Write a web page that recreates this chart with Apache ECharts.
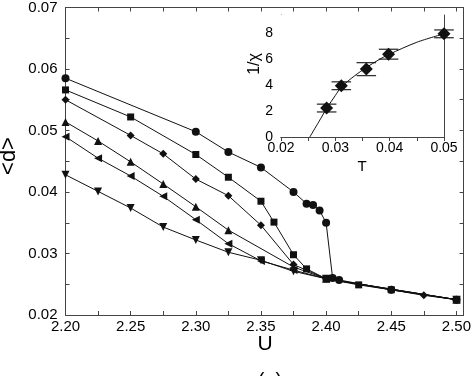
<!DOCTYPE html>
<html>
<head>
<meta charset="utf-8">
<script src="https://cdn.jsdelivr.net/npm/echarts@6/dist/echarts.min.js"></script>
<style>
  html, body {margin: 0; padding: 0; background: #fff;}
  #chart {width: 474px; height: 376px;}
</style>
</head>
<body>
<div id="chart"></div>
<script>
// main panel: <d> vs U, one series per temperature
const circleU = [2.2, 2.3, 2.325, 2.35, 2.375, 2.385, 2.39, 2.395, 2.40, 2.405, 2.41, 2.45, 2.5];
const circleD = [0.0585, 0.0498, 0.0465, 0.0440, 0.0400, 0.0381, 0.0379, 0.0370, 0.0350, 0.0260, 0.0257, 0.0241, 0.0225];
const squareU = [2.2, 2.25, 2.3, 2.325, 2.35, 2.36, 2.375, 2.385, 2.40, 2.425, 2.45, 2.5];
const squareD = [0.0566, 0.0522, 0.0461, 0.0424, 0.0385, 0.0351, 0.0298, 0.0275, 0.0259, 0.0249, 0.0241, 0.0225];
const diamondU = [2.2, 2.25, 2.275, 2.3, 2.325, 2.35, 2.375, 2.40, 2.45, 2.475, 2.5];
const diamondD = [0.0550, 0.0492, 0.0462, 0.0421, 0.0394, 0.0346, 0.0282, 0.0259, 0.0241, 0.0232, 0.0225];
const upU = [2.2, 2.225, 2.25, 2.275, 2.3, 2.325, 2.375, 2.40, 2.5];
const upD = [0.0514, 0.0483, 0.0449, 0.0413, 0.0376, 0.0338, 0.0278, 0.0259, 0.0225];
const leftU = [2.2, 2.225, 2.25, 2.275, 2.3, 2.325, 2.35, 2.375, 2.40, 2.5];
const leftD = [0.0490, 0.0455, 0.0426, 0.0393, 0.0355, 0.0316, 0.0288, 0.0273, 0.0259, 0.0225];
const downU = [2.2, 2.225, 2.25, 2.275, 2.3, 2.325, 2.35, 2.375, 2.40, 2.5];
const downD = [0.0428, 0.0401, 0.0374, 0.0343, 0.0322, 0.0302, 0.0289, 0.0271, 0.0259, 0.0225];

// inset: 1/chi vs T with error bars and fitted curve
const insetT = [0.0284, 0.0311, 0.0357, 0.0398, 0.050];
const insetV = [2.23, 3.95, 5.23, 6.38, 7.95];
const insetErr = [0.3, 0.3, 0.5, 0.38, 0.3];
const fitT = [0.0253, 0.027, 0.0284, 0.030, 0.0311, 0.0335, 0.0357, 0.038, 0.0398, 0.045, 0.050];
const fitV = [0, 1.2, 2.2, 3.2, 3.85, 4.7, 5.35, 5.95, 6.35, 7.3, 7.95];

const FONT = 'Liberation Sans';
const AX = '#444';
const INK = '#111';

const pairs = (xs, ys) => xs.map((x, i) => [x, ys[i]]);
const onStep = (v, step) => Math.abs(Math.round(v / step) * step - v) < 1e-9;

const DIAMOND = 'path://M0,-1L1,0L0,1L-1,0Z';
const LEFT_TRI = 'path://M-1,0L1,-1L1,1Z';
const DOWN_TRI = 'path://M-1,-1L1,-1L0,1Z';

function axis(extra) {
  return Object.assign({
    type: 'value',
    axisLine: {show: true, lineStyle: {color: AX, width: 1}},
    axisTick: {show: true, inside: true, length: 4, lineStyle: {color: AX}},
    splitLine: {show: false},
    axisLabel: {show: false},
  }, extra);
}

function lineSeries(xs, ys, symbol, size) {
  return {
    type: 'line', xAxisIndex: 0, yAxisIndex: 0,
    data: pairs(xs, ys),
    symbol: symbol, symbolSize: size,
    lineStyle: {color: INK, width: 1},
    itemStyle: {color: INK, opacity: 1},
    z: 3,
  };
}

const chart = echarts.init(document.getElementById('chart'), null, {renderer: 'canvas'});
chart.setOption({
  animation: false,
  backgroundColor: '#fff',
  grid: [
    {left: 65.5, right: 7.5, top: 4, bottom: 61},
    {left: 281, right: 30, top: 15, bottom: 239, show: true, backgroundColor: '#fff', borderWidth: 0, z: 5},
  ],
  xAxis: [
    axis({gridIndex: 0, min: 2.2, max: 2.5055, interval: 0.025, position: 'bottom',
      axisLabel: {show: true, margin: 4, color: '#000', fontFamily: FONT, fontSize: 15,
        formatter: v => (onStep(v, 0.05) && v <= 2.5001) ? v.toFixed(2) : ''}}),
    axis({gridIndex: 0, min: 2.2, max: 2.5055, interval: 0.025, position: 'top'}),
    axis({gridIndex: 1, min: 0.02, max: 0.05, interval: 0.005, position: 'bottom',
      axisLabel: {show: true, margin: 4, color: '#000', fontFamily: FONT, fontSize: 14,
        formatter: v => onStep(v, 0.01) ? v.toFixed(2) : ''}}),
    axis({gridIndex: 1, min: 0.02, max: 0.05, interval: 0.005, position: 'top'}),
  ],
  yAxis: [
    axis({gridIndex: 0, min: 0.02, max: 0.07, interval: 0.005, position: 'left',
      axisLabel: {show: true, margin: 8, color: '#000', fontFamily: FONT, fontSize: 15,
        formatter: v => onStep(v, 0.01) ? v.toFixed(2) : ''}}),
    axis({gridIndex: 0, min: 0.02, max: 0.07, interval: 0.005, position: 'right'}),
    axis({gridIndex: 1, min: 0, max: 9.4, interval: 1, position: 'left',
      axisLabel: {show: true, margin: 8, color: '#000', fontFamily: FONT, fontSize: 14,
        formatter: v => (onStep(v, 2) && v <= 8) ? String(v) : ''}}),
    axis({gridIndex: 1, min: 0, max: 9.4, interval: 1, position: 'right'}),
  ],
  series: [
    lineSeries(circleU, circleD, 'circle', 8),
    lineSeries(squareU, squareD, 'rect', 7),
    lineSeries(diamondU, diamondD, DIAMOND, 8),
    lineSeries(upU, upD, 'triangle', 8),
    lineSeries(leftU, leftD, LEFT_TRI, 8),
    lineSeries(downU, downD, DOWN_TRI, 8),
    {
      type: 'line', xAxisIndex: 2, yAxisIndex: 2,
      data: pairs(fitT, fitV),
      smooth: 0.3, showSymbol: false, symbol: 'none',
      lineStyle: {color: INK, width: 1}, z: 6,
    },
    {
      type: 'custom', xAxisIndex: 2, yAxisIndex: 2,
      data: insetT.map((t, i) => [t, insetV[i], insetErr[i]]),
      renderItem: (params, api) => {
        const t = api.value(0), v = api.value(1), e = api.value(2);
        const a = api.coord([t - 0.0018, v + e]);
        const b = api.coord([t + 0.0018, v + e]);
        const c = api.coord([t - 0.0018, v - e]);
        const d = api.coord([t + 0.0018, v - e]);
        const style = {stroke: '#333', lineWidth: 1.3};
        return {type: 'group', children: [
          {type: 'line', shape: {x1: a[0], y1: a[1], x2: b[0], y2: b[1]}, style: style},
          {type: 'line', shape: {x1: c[0], y1: c[1], x2: d[0], y2: d[1]}, style: style},
        ]};
      },
      clip: false,
      z: 6,
    },
    {
      type: 'scatter', xAxisIndex: 2, yAxisIndex: 2,
      data: pairs(insetT, insetV),
      symbol: DIAMOND, symbolSize: 13,
      clip: false,
      itemStyle: {color: INK, opacity: 1}, z: 7,
    },
  ],
  graphic: [
    {type: 'text', x: 9, y: 156, rotation: Math.PI / 2,
      style: {text: '<d>', font: '22px "Liberation Sans"', fill: '#000', align: 'center', verticalAlign: 'middle'}},
    {type: 'text', x: 265, y: 344,
      style: {text: 'U', font: '21px "Liberation Sans"', fill: '#000', align: 'center', verticalAlign: 'middle'}},
    {type: 'text', x: 255, y: 64, rotation: Math.PI / 2,
      style: {text: '1/χ', font: '16px "Liberation Sans"', fill: '#000', align: 'center', verticalAlign: 'middle'}},
    {type: 'text', x: 362, y: 167,
      style: {text: 'T', font: '15px "Liberation Sans"', fill: '#000', align: 'center', verticalAlign: 'middle'}},
    {type: 'text', x: 270, y: 371,
      style: {text: '(a)', font: '20px "Liberation Sans"', fill: '#000', align: 'center', verticalAlign: 'top'}},
  ],
});
</script>
</body>
</html>
